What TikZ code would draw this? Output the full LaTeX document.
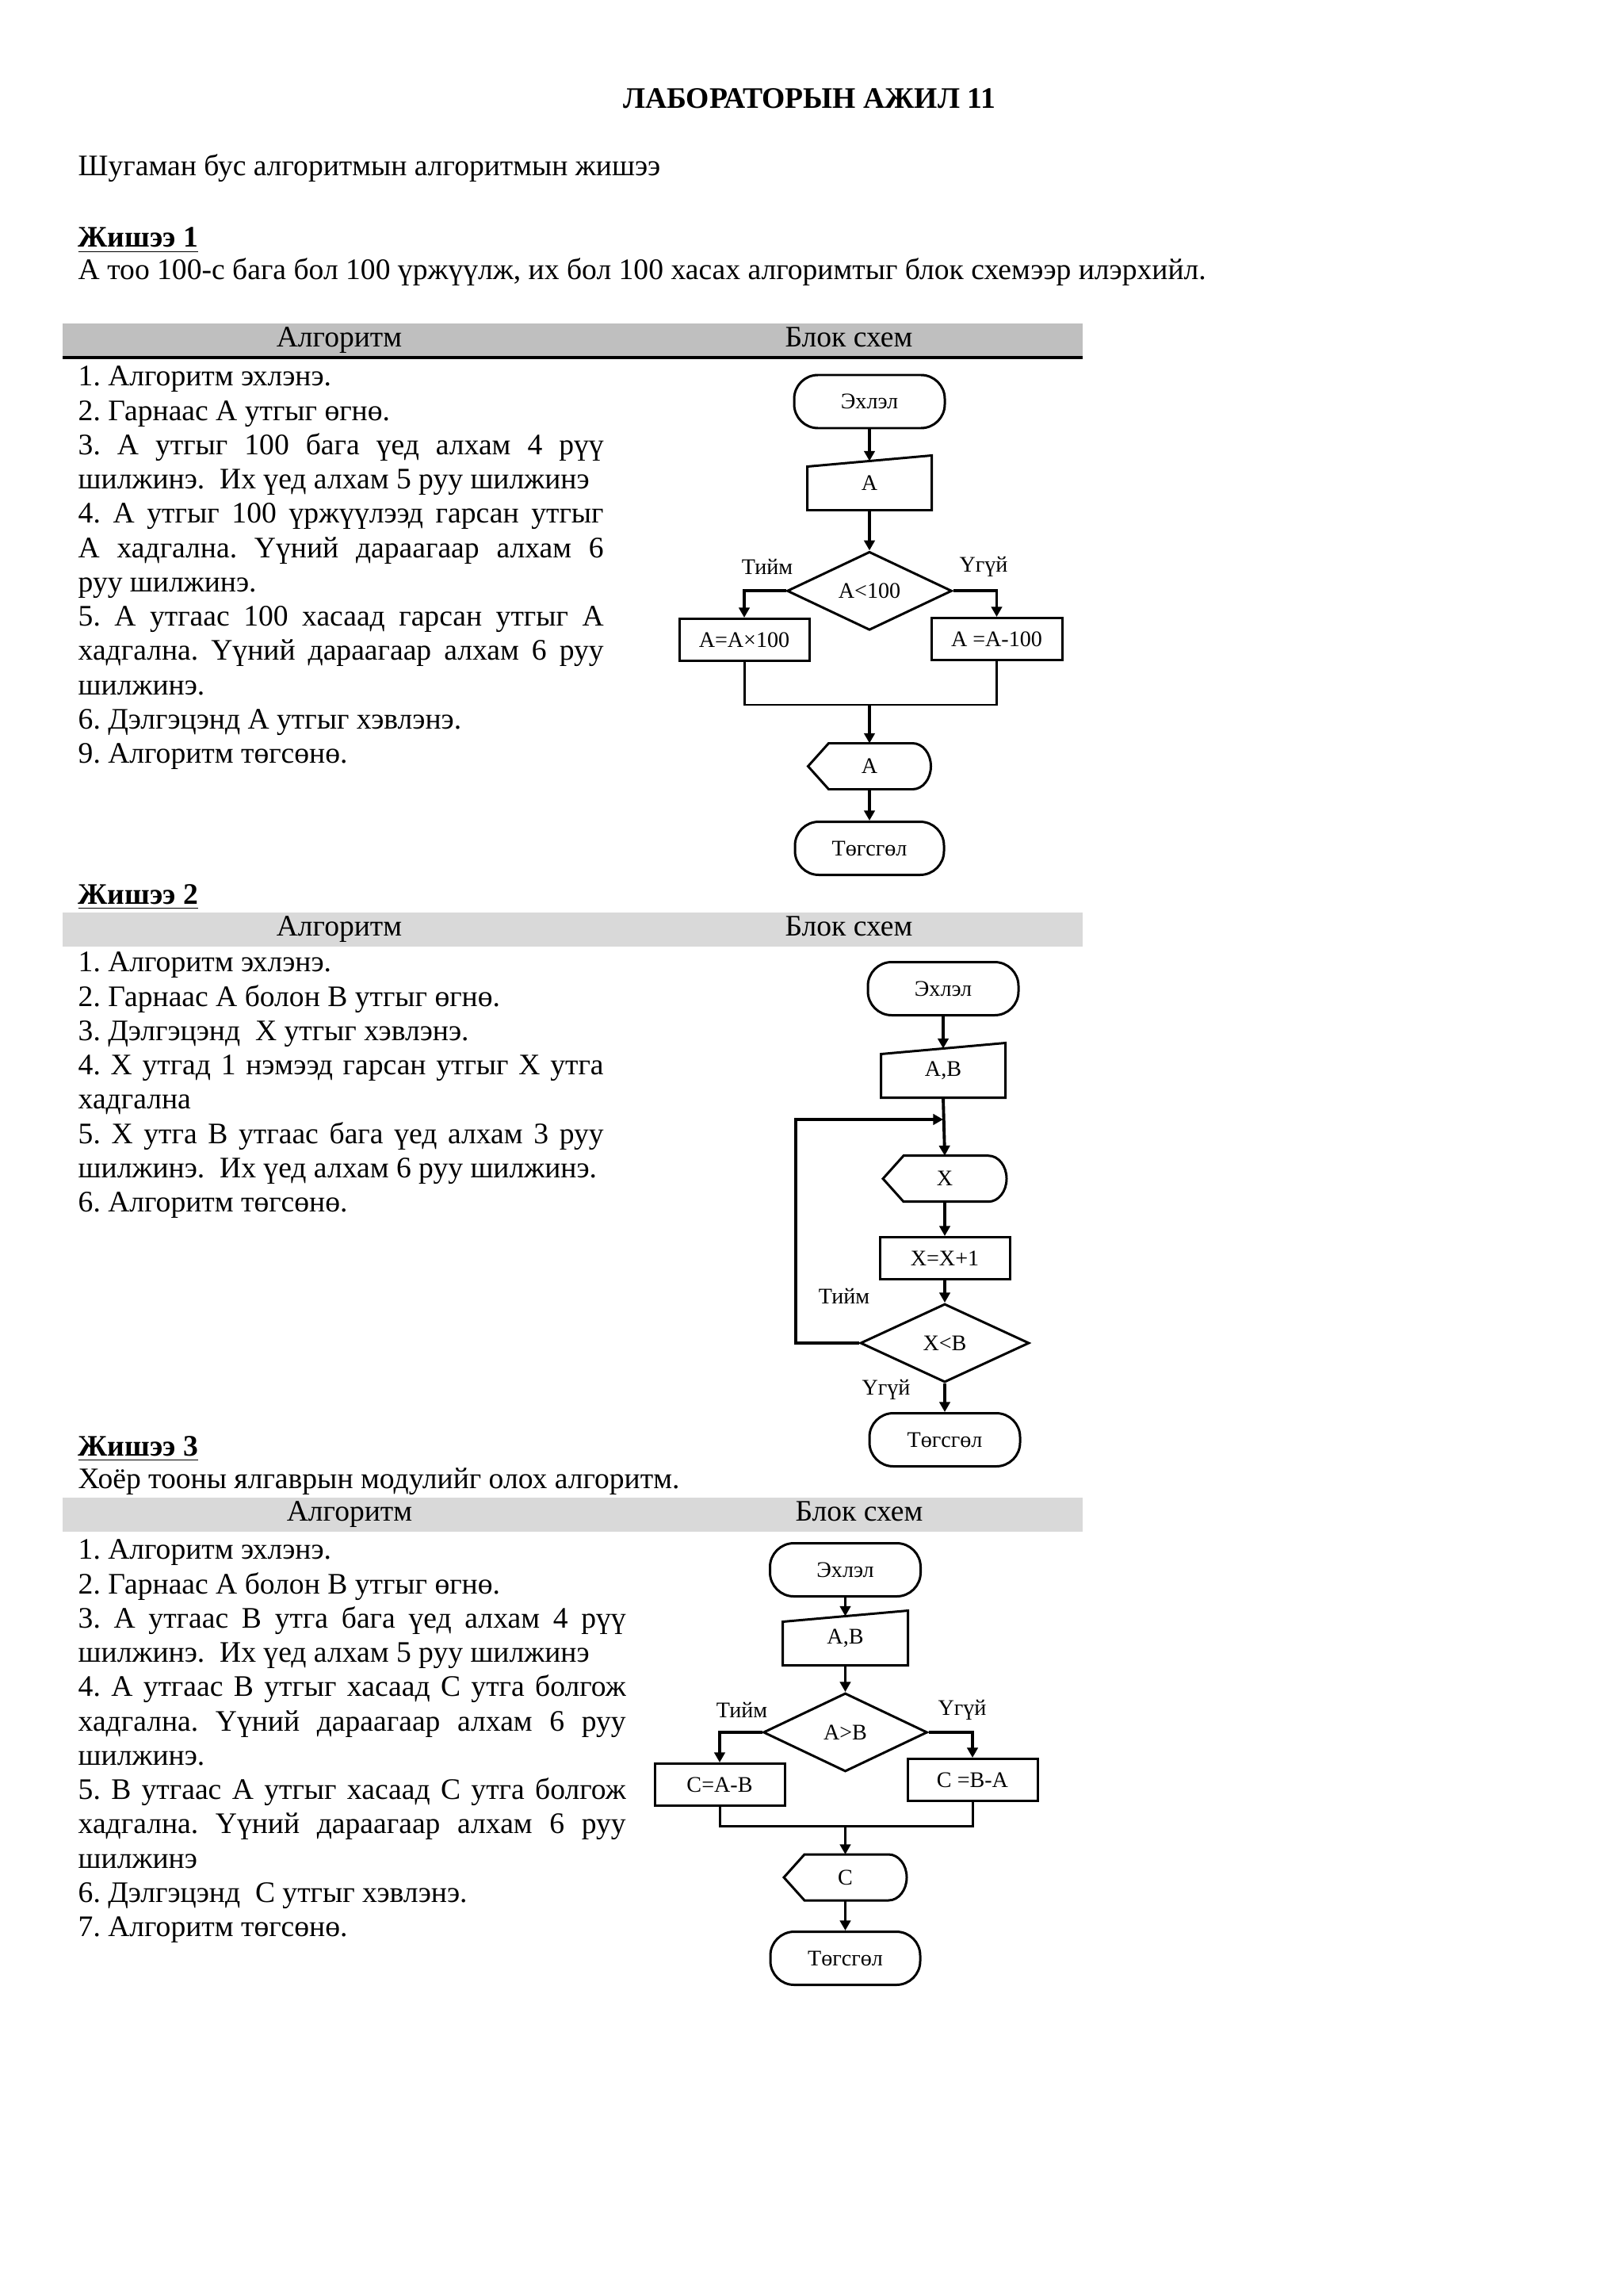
\documentclass[tikz,border=0pt]{standalone}
\usepackage{fontspec}
\setmainfont{Liberation Serif}
\usetikzlibrary{arrows.meta, shapes.geometric, positioning, calc}
\newcommand{\bodyfont}{\fontsize{10.7}{12.3}\selectfont\frenchspacing}
\newcommand{\fcfont}{\fontsize{8}{9.6}\selectfont}
\setlength{\parindent}{0pt}

\begin{document}
\begin{tikzpicture}[
  x=1cm, y=1cm,
  >={Triangle[length=3.6pt, width=3.8pt]},
  line/.style={line width=0.85pt},
  arr/.style={->, line width=1.1pt},
  txt/.style={anchor=base west, inner sep=0pt, font=\bodyfont},
  steps/.style={anchor=north west, inner sep=0pt, text width=#1,
                align=justify, font=\bodyfont},
  headbar/.style={inner sep=0pt, anchor=base, font=\bodyfont},
  term/.style={draw, line width=0.85pt, rounded corners=0.3cm,
               minimum width=1.9cm, minimum height=0.67cm,
               inner sep=0pt, font=\fcfont},
  inbox/.style={minimum width=1.57cm, minimum height=0.69cm,
                inner sep=0pt, outer sep=0pt, font=\fcfont},
  proc/.style={draw, line width=0.85pt, minimum width=1.64cm,
               minimum height=0.53cm, inner sep=0pt, font=\fcfont},
  decis/.style={draw, diamond, line width=0.85pt, minimum width=2.08cm,
                minimum height=0.99cm, inner sep=0pt, font=\fcfont},
  disp/.style={minimum width=1.55cm, minimum height=0.58cm,
               inner sep=0pt, outer sep=0pt, font=\fcfont},
  yesno/.style={inner sep=0pt, font=\fcfont}
]

% ---------- Page ----------
\fill[white] (0,0) rectangle (20.48,-28.96);
\useasboundingbox (0,0) rectangle (20.48,-28.96);

% ---------- Title ----------
\node[headbar, font=\bodyfont\bfseries] (title) at (10.21,-1.37) {ЛАБОРАТОРЫН АЖИЛ 11};
\node[txt] (intro) at (0.98,-2.22) {Шугаман бус алгоритмын алгоритмын жишээ};

% ---------- Example 1 ----------
\node[txt] (ex1) at (0.98,-3.12) {\underline{\textbf{Жишээ 1}}};
\node[txt] (task1) at (0.98,-3.53)
  {А тоо 100-с бага бол 100 үржүүлж, их бол 100 хасах алгоримтыг блок схемээр илэрхийл.};

\fill[black!25] (0.79,-4.08) rectangle (13.66,-4.49);
\draw[line width=1.2pt] (0.79,-4.51) -- (13.66,-4.51);
\node[headbar] (alg1) at (4.28,-4.38) {Алгоритм};
\node[headbar] (blk1) at (10.71,-4.38) {Блок схем};

\node[steps=6.63cm] (list1) at (0.98,-4.56) {\strut
  1. Алгоритм эхлэнэ.\par
  2. Гарнаас А утгыг өгнө.\par
  3. А утгыг 100 бага үед алхам 4 рүү \linebreak шилжинэ.\ \ Их үед алхам 5 руу шилжинэ\par
  4. А утгыг 100 үржүүлээд гарсан утгыг \linebreak А хадгална. Үүний дараагаар алхам 6 \linebreak руу шилжинэ.\par
  5. А утгаас 100 хасаад гарсан утгыг А \linebreak хадгална. Үүний дараагаар алхам 6 руу \linebreak шилжинэ.\par
  6. Дэлгэцэнд А утгыг хэвлэнэ.\par
  9. Алгоритм төгсөнө.};

% block scheme 1
\node[term] (s1) at (10.97,-5.065) {Эхлэл};
\node[inbox] (in1) at (10.97,-6.09) {A};
\node[decis] (d1) at (10.97,-7.453) {A<100};
\node[proc] (p1L) at (9.39,-8.07) {A=A×100};
\node[proc, minimum width=1.65cm] (p1R) at (12.575,-8.06) {A =A-100};
\coordinate (m1) at (10.97,-8.89);
\node[disp] (o1) at (10.97,-9.665) {A};
\node[term, minimum width=1.88cm] (e1) at (10.97,-10.70) {Төгсгөл};
\node[yesno] (y1) at (9.68,-7.15) {Тийм};
\node[yesno] (n1) at (12.41,-7.15) {Үгүй};

\draw[arr] (s1.south) -- ([yshift=-0.07cm]in1.north);
\draw[arr] (in1.south) -- (d1.north);
\draw[arr] (d1.west) -| (p1L.north);
\draw[arr] (d1.east) -| (p1R.north);
\draw[line] (p1L.south) |- (p1R.south |- m1) -- (p1R.south);
\draw[arr] (m1) -- (o1.north);
\draw[arr] (o1.south) -- (e1.north);

% ---------- Example 2 ----------
\node[txt] (ex2) at (0.98,-11.40) {\underline{\textbf{Жишээ 2}}};

\fill[black!15] (0.79,-11.51) rectangle (13.66,-11.94);
\node[headbar] (alg2) at (4.28,-11.80) {Алгоритм};
\node[headbar] (blk2) at (10.71,-11.80) {Блок схем};

\node[steps=6.63cm] (list2) at (0.98,-11.95) {\strut
  1. Алгоритм эхлэнэ.\par
  2. Гарнаас А болон В утгыг өгнө.\par
  3. Дэлгэцэнд\ \ Х утгыг хэвлэнэ.\par
  4. Х утгад 1 нэмээд гарсан утгыг Х утга \linebreak хадгална\par
  5. Х утга В утгаас бага үед алхам 3 руу \linebreak шилжинэ.\ \ Их үед алхам 6 руу шилжинэ.\par
  6. Алгоритм төгсөнө.};

% block scheme 2
\node[term] (s2) at (11.90,-12.47) {Эхлэл};
\node[inbox] (in2) at (11.90,-13.50) {A,B};
\coordinate (j2) at (11.90,-14.12);
\node[disp, minimum width=1.56cm] (o2) at (11.92,-14.867) {X};
\node[proc] (p2) at (11.92,-15.87) {X=X+1};
\node[decis, minimum width=2.13cm] (d2) at (11.92,-16.94) {X<B};
\node[term] (e2) at (11.92,-18.16) {Төгсгөл};
\coordinate (lp2) at (10.04,-14.12);
\node[yesno] (y2) at (10.65,-16.35) {Тийм};
\node[yesno] (n2) at (11.18,-17.53) {Үгүй};

\draw[arr] (s2.south) -- ([yshift=-0.07cm]in2.north);
\draw[arr] (in2.south) -- (o2.north);
\draw[arr] (d2.west) -| (lp2) -- (j2);
\draw[arr] (o2.south) -- (p2.north);
\draw[arr] (p2.south) -- (d2.north);
\draw[arr] (d2.south) -- (e2.north);

% ---------- Example 3 ----------
\node[txt] (ex3) at (0.98,-18.36) {\underline{\textbf{Жишээ 3}}};
\node[txt] (task3) at (0.98,-18.77) {Хоёр тооны ялгаврын модулийг олох алгоритм.};

\fill[black!15] (0.79,-18.89) rectangle (13.66,-19.32);
\node[headbar] (alg3) at (4.41,-19.18) {Алгоритм};
\node[headbar] (blk3) at (10.84,-19.18) {Блок схем};

\node[steps=6.91cm] (list3) at (0.98,-19.36) {\strut
  1. Алгоритм эхлэнэ.\par
  2. Гарнаас А болон В утгыг өгнө.\par
  3. А утгаас В утга бага үед алхам 4 рүү \linebreak шилжинэ.\ \ Их үед алхам 5 руу шилжинэ\par
  4. А утгаас В утгыг хасаад С утга болгож \linebreak хадгална. Үүний дараагаар алхам 6 руу \linebreak шилжинэ.\par
  5. В утгаас А утгыг хасаад С утга болгож \linebreak хадгална. Үүний дараагаар алхам 6 руу \linebreak шилжинэ\par
  6. Дэлгэцэнд\ \ С утгыг хэвлэнэ.\par
  7. Алгоритм төгсөнө.};

% block scheme 3
\node[term] (s3) at (10.665,-19.80) {Эхлэл};
\node[inbox, minimum width=1.58cm] (in3) at (10.665,-20.66) {A,B};
\node[decis, minimum width=2.07cm] (d3) at (10.665,-21.85) {A>B};
\node[proc] (p3L) at (9.08,-22.51) {C=A-B};
\node[proc] (p3R) at (12.27,-22.45) {C =B-A};
\coordinate (m3) at (10.665,-23.03);
\node[disp] (o3) at (10.665,-23.68) {C};
\node[term, minimum width=1.89cm] (e3) at (10.665,-24.70) {Төгсгөл};
\node[yesno] (y3) at (9.36,-21.57) {Тийм};
\node[yesno] (n3) at (12.14,-21.57) {Үгүй};

\draw[arr] (s3.south) -- ([yshift=-0.07cm]in3.north);
\draw[arr] (in3.south) -- (d3.north);
\draw[arr] (d3.west) -| (p3L.north);
\draw[arr] (d3.east) -| (p3R.north);
\draw[line] (p3L.south) |- (p3R.south |- m3) -- (p3R.south);
\draw[arr] (m3) -- (o3.north);
\draw[arr] (o3.south) -- (e3.north);

% ---------- Input and output outlines ----------
\foreach \n in {in1,in2,in3}
  \draw[line] (\n.south west) -- ([yshift=-0.14cm]\n.north west)
    -- (\n.north east) -- (\n.south east) -- cycle;
\foreach \n in {o1,o2,o3}
  \draw[line] (\n.west) -- ([xshift=0.26cm]\n.north west)
    -- ([xshift=-0.23cm]\n.north east)
    arc[start angle=90, end angle=-90, x radius=0.23cm, y radius=0.29cm]
    -- ([xshift=0.26cm]\n.south west) -- cycle;

\end{tikzpicture}
\end{document}
